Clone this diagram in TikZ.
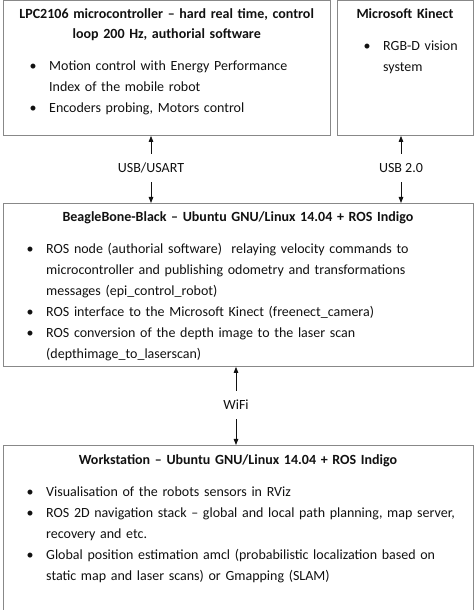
\documentclass[tikz,border=0pt]{standalone}
\usepackage{fontspec}
\setmainfont{Carlito}
\usetikzlibrary{positioning,arrows.meta}

\definecolor{boxgray}{HTML}{888888}
\definecolor{inkgray}{HTML}{111111}

\newcommand{\bul}[2][27pt]{\par\noindent\leftskip=#1\hangindent=16pt\hangafter=1%
  \makebox[0pt][c]{\textbullet}\hspace{16pt}#2\par}
\newcommand{\boxtitle}[1]{{\fontsize{14}{20}\selectfont\bfseries\centering\strut#1\par}\vspace{11pt}}

\begin{document}
\begin{tikzpicture}[x=1pt,y=1pt,
    unit/.style={draw=boxgray, line width=0.9pt, inner sep=0pt, anchor=north west},
    body/.style={inner sep=0pt, anchor=north west, align=left, text=inkgray,
        font=\fontsize{14}{21}\selectfont},
    link/.style={inner sep=0pt, minimum height=28pt, text height=9pt, text depth=0pt,
        text=inkgray, font=\fontsize{14}{21}\selectfont},
    arr/.style={-{Triangle[length=6pt,width=4.5pt]}, line width=0.8pt, draw=inkgray}]
    \useasboundingbox (0,0) rectangle (474,610);

    % boxes
    \node[unit, minimum width=327pt, minimum height=135pt] (lpc) at (3,610) {};
    \node[unit, minimum width=135.5pt, minimum height=135pt] (kinect) at (337,610) {};
    \node[unit, minimum width=469.5pt, minimum height=163pt] (bbb) at (3,407) {};
    \node[unit, minimum width=469.5pt, minimum height=168pt] (ws) at (3,165) {};

    % box contents
    \node[body, text width=327pt] (lpctext) at ([yshift=-4.5pt]lpc.north west) {%
        \boxtitle{LPC2106 microcontroller -- hard real time, control\\loop 200 Hz, authorial software}%
        \bul[30pt]{Motion control with Energy Performance\newline Index of the mobile robot}%
        \bul[30pt]{Encoders probing, Motors control}};
    \node[body, text width=135.5pt] (kinecttext) at ([yshift=-4.5pt]kinect.north west) {%
        \boxtitle{Microsoft Kinect}%
        \bul[30pt]{RGB-D vision\newline system}};
    \node[body, text width=469.5pt] (bbbtext) at ([yshift=-4.5pt]bbb.north west) {%
        \boxtitle{BeagleBone-Black -- Ubuntu GNU/Linux 14.04 + ROS Indigo}%
        \bul{ROS node (authorial software)\ \ relaying velocity commands to\newline microcontroller and publishing odometry and transformations\newline messages (epi\_control\_robot)}%
        \bul{ROS interface to the Microsoft Kinect (freenect\_camera)}%
        \bul{ROS conversion of the depth image to the laser scan\newline (depthimage\_to\_laserscan)}};
    \node[body, text width=469.5pt] (wstext) at ([yshift=-5pt]ws.north west) {%
        \boxtitle{Workstation -- Ubuntu GNU/Linux 14.04 + ROS Indigo}%
        \bul{Visualisation of the robots sensors in RViz}%
        \bul{ROS 2D navigation stack -- global and local path planning, map server,\newline recovery and etc.}%
        \bul{Global position estimation amcl (probabilistic localization based on\newline static map and laser scans) or Gmapping (SLAM)}};

    % links
    \node[link] (usart) at (151,442) {USB/USART};
    \node[link] (usb) at (401,442) {USB 2.0};
    \node[link] (wifi) at (236,205) {WiFi};
    \draw[arr] (usart) -- (usart |- lpc.south);
    \draw[arr] (usart) -- (usart |- bbb.north);
    \draw[arr] (usb) -- (usb |- kinect.south);
    \draw[arr] (usb) -- (usb |- bbb.north);
    \draw[arr] (wifi) -- (wifi |- bbb.south);
    \draw[arr] (wifi) -- (wifi |- ws.north);
\end{tikzpicture}
\end{document}
